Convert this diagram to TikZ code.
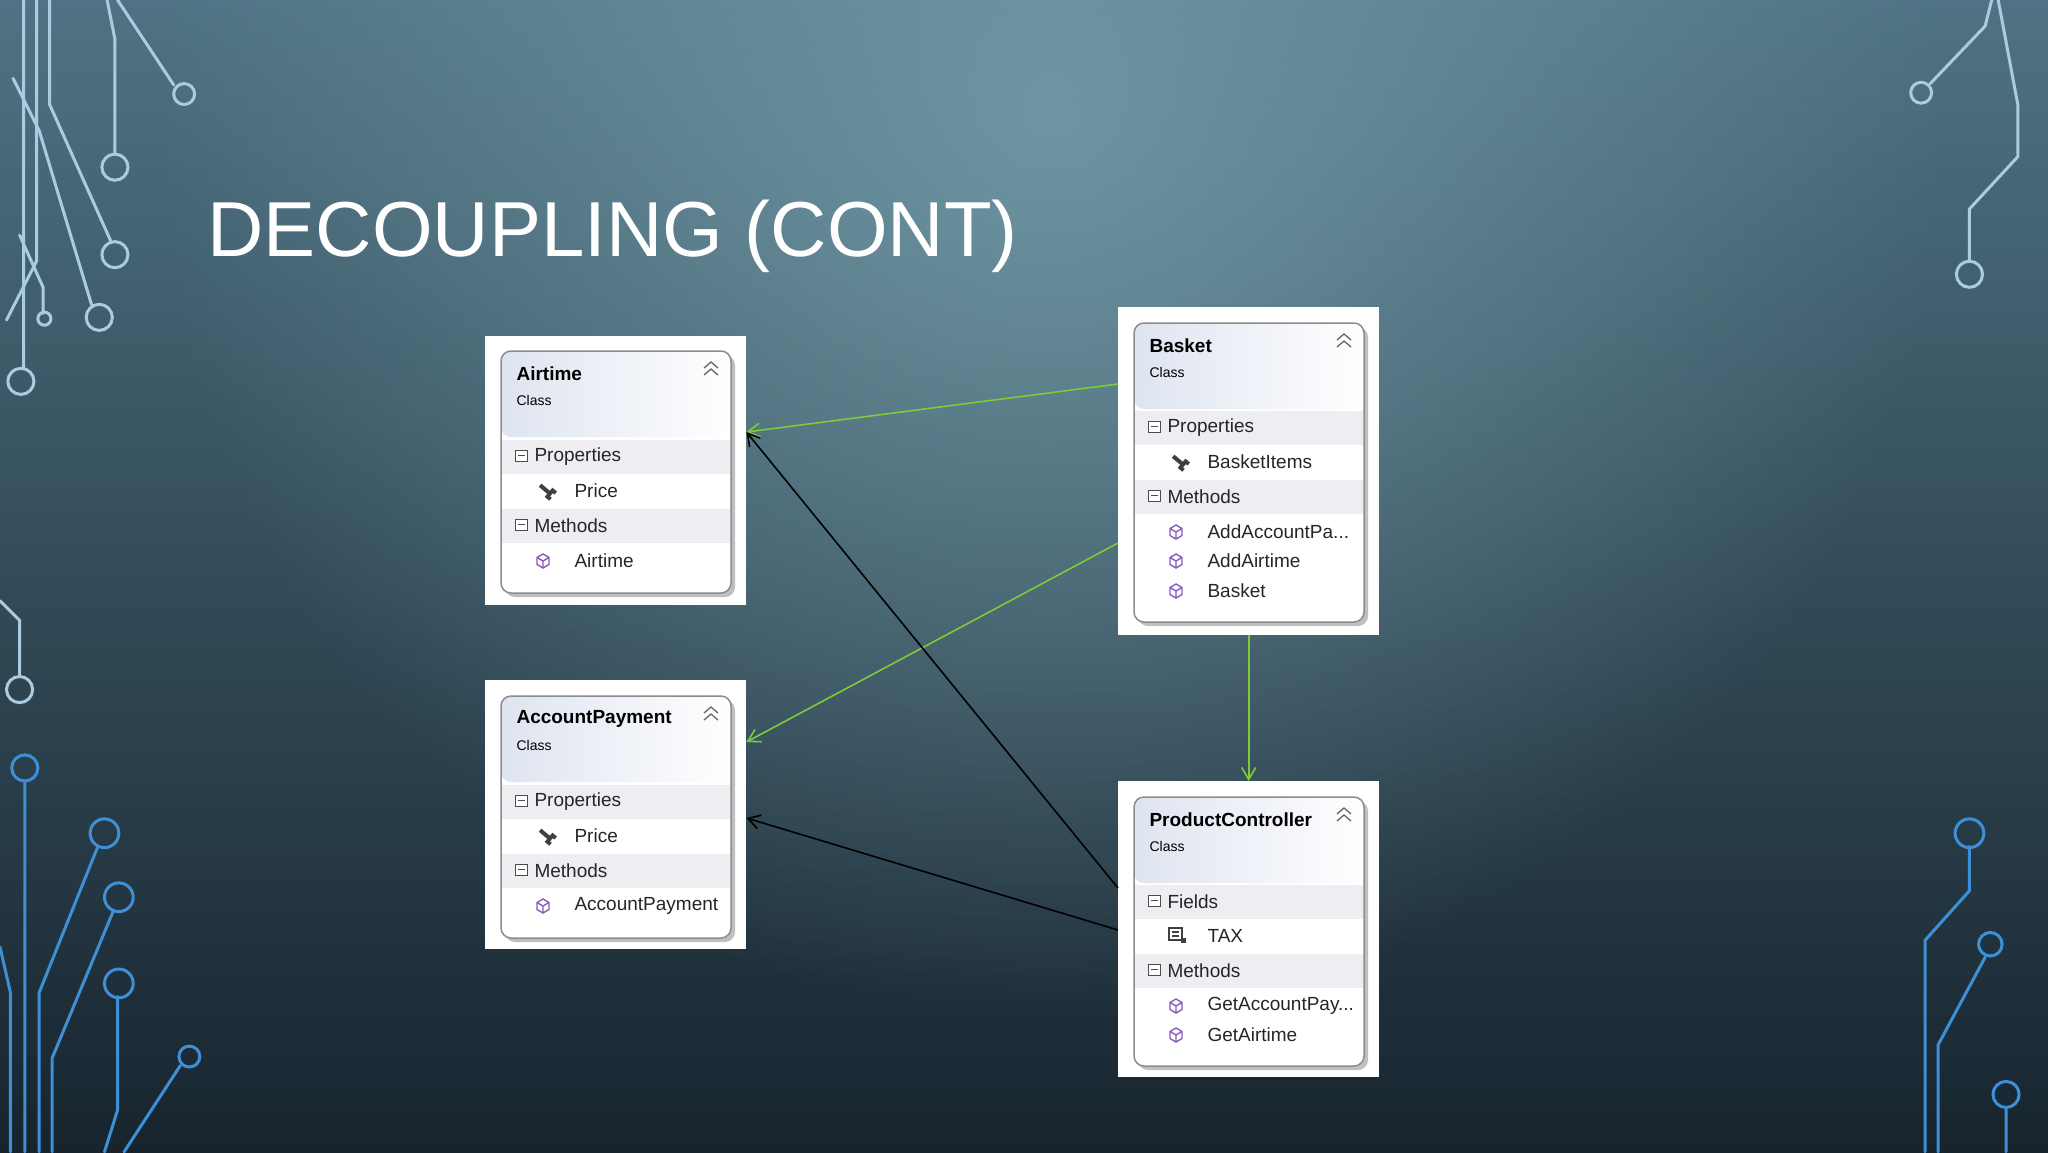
\documentclass[tikz,border=0pt]{standalone}
\usepackage{fontspec}
\setmainfont{Liberation Sans}
\usetikzlibrary{arrows.meta,calc,fadings}
\definecolor{bgtop}{HTML}{4F7384}
\definecolor{bgbot}{HTML}{17242E}
\definecolor{glowc}{HTML}{78A0AC}
\definecolor{hdrtint}{HTML}{DEE4F0}
\definecolor{circlight}{HTML}{A9CCE0}
\definecolor{circblue}{HTML}{3E90D6}
\definecolor{hdrgray}{HTML}{EEEEF2}
\definecolor{cubec}{HTML}{8A5CC0}
\definecolor{arrgreen}{HTML}{7CCB3A}
\tikzfading[name=glow, inner color=transparent!20, outer color=transparent!100]
\tikzset{
 panel/.style={draw=none,fill=white,minimum width=261pt,anchor=north west,inner sep=0pt},
 circ/.style={line width=3pt,line cap=round},
 conn/.style={line width=1.6pt,-{Straight Barb[length=12pt,width=14pt,line width=1.6pt]}},
 rowtxt/.style={anchor=west,font=\fontsize{19}{19}\selectfont,text=black!85},
}
\newcommand\cardtop[4]{% x y height title
 \fill[black!25,rounded corners=10pt] (#1+4,#2+4) rectangle ++(230,#3);
 \fill[white,rounded corners=10pt] (#1,#2) rectangle ++(230,#3);
 \shade[left color=hdrtint,right color=white,rounded corners=10pt] (#1,#2) rectangle ++(230,86);
 \node[anchor=west,font=\bfseries\fontsize{19}{19}\selectfont] at (#1+12,#2+23) {#4};
 \node[anchor=west,font=\fontsize{14}{14}\selectfont] at (#1+12,#2+49) {Class};
 \draw[black!60,line width=1.3pt] (#1+203,#2+17)--++(7,-6)--++(7,6) (#1+203,#2+24)--++(7,-6)--++(7,6);
}
\newcommand\hdrrow[4]{%
 \fill[hdrgray] (#1+1,#2-17) rectangle ++(228,34);
 \draw[black!70,fill=white] (#1+14,#2-7) rectangle ++(12,11);
 \draw[black!70,line width=1pt] (#1+16.5,#2-1.5)--++(7,0);
 \node[rowtxt] at (#1+30,#2) {#3};
}
\newcommand\proprow[3]{%
 \begin{scope}[shift={(#1+46,#2)},rotate=-40]
 \fill[black!75] (-9,-2) rectangle (4,2);
 \fill[black!75] (2,-6) rectangle (8,6);
 \fill[white] (6,-2) rectangle (9,2);
 \end{scope}
 \node[rowtxt] at (#1+70,#2) {#3};
}
\newcommand\methrow[3]{%
 \draw[cubec,line width=1.4pt] (#1+42,#2-7)--++(6,3.5)--++(0,7)--++(-6,3.5)--++(-6,-3.5)--++(0,-7)--cycle (#1+36,#2-3.5)--++(6,3.5)--++(6,-3.5) (#1+42,#2)--++(0,7);
 \node[rowtxt] at (#1+70,#2) {#3};
}
\newcommand\fieldrow[3]{%
 \draw[black!75,line width=1.2pt] (#1+35,#2-8) rectangle ++(13,12) (#1+38,#2-4)--++(7,0) (#1+38,#2)--++(7,0);
 \fill[black!75] (#1+47,#2+2) rectangle ++(5,5);
 \node[rowtxt] at (#1+70,#2) {#3};
}
\newcommand\cardframe[3]{\draw[black!45,line width=1.5pt,rounded corners=10pt] (#1,#2) rectangle ++(230,#3);}
\begin{document}
\begin{tikzpicture}[x=1pt,y=-1pt]
\useasboundingbox (0,0) rectangle (2048,1152);
\shade[top color=bgtop,bottom color=bgbot] (0,0) rectangle (2048,1152);
\fill[glowc,path fading=glow] (1050,120) circle (900);
% circuits
\begin{scope}[scale=1.306]
\begin{scope}[circ,draw=circlight]
\draw (18,0)--(18,282) (16,292) circle (10);
\draw (28,0)--(28,200)--(5,245);
\draw (38,0)--(38,80)--(85,185) (88,195) circle (10);
\draw (82,0)--(88,30)--(88,118) (88,128) circle (10);
\draw (90,0)--(133,65) (141,72) circle (8);
\draw (10,60)--(30,100)--(70,233) (76,243) circle (10);
\draw (15,180)--(33,220)--(33,240) (34,244) circle (5);
\draw (1525,0)--(1520,20)--(1478,64) (1471,71) circle (8);
\draw (1530,0)--(1545,80)--(1545,120)--(1508,160)--(1508,200) (1508,210) circle (10);
\draw (0,460)--(15,475)--(15,518) (15,528) circle (10);
\end{scope}
\begin{scope}[circ,draw=circblue]
\draw (19,598)--(19,882) (19,588) circle (10);
\draw (0,725)--(8,760)--(8,882);
\draw (30,882)--(30,760)--(75,648) (80,638) circle (11);
\draw (40,882)--(40,810)--(87,697) (91,687) circle (11);
\draw (90,763)--(90,850)--(80,882) (91,753) circle (11);
\draw (95,882)--(138,816) (145,809) circle (8);
\draw (1474,882)--(1474,720)--(1508,682)--(1508,648) (1508,638) circle (11);
\draw (1484,882)--(1484,800)--(1520,733) (1524,723) circle (9);
\draw (1536,848)--(1536,882) (1536,838) circle (10);
\end{scope}
\end{scope}
\node[anchor=base west,text=white,font=\fontsize{78}{78}\selectfont] at (204,256) {DECOUPLING (CONT)};
% panels
\node[panel,minimum height=269pt] (air) at (485,336) {};
\node[panel,minimum height=269pt] (acc) at (485,680) {};
\node[panel,minimum height=328pt] (bas) at (1118,307) {};
\node[panel,minimum height=296pt] (pc) at (1118,781) {};
% Airtime
\cardtop{501}{351}{242}{Airtime}
\hdrrow{501}{457}{Properties}{}
\proprow{501}{491}{Price}
\hdrrow{501}{526}{Methods}{}
\methrow{501}{561}{Airtime}
\cardframe{501}{351}{242}
% AccountPayment
\cardtop{501}{696}{242}{AccountPayment}
\hdrrow{501}{802}{Properties}{}
\proprow{501}{836}{Price}
\hdrrow{501}{871}{Methods}{}
\methrow{501}{906}{AccountPayment}
\cardframe{501}{696}{242}
% Basket
\cardtop{1134}{323}{299}{Basket}
\hdrrow{1134}{428}{Properties}{}
\proprow{1134}{462}{BasketItems}
\hdrrow{1134}{497}{Methods}{}
\methrow{1134}{532}{AddAccountPa...}
\methrow{1134}{561}{AddAirtime}
\methrow{1134}{591}{Basket}
\cardframe{1134}{323}{299}
% ProductController
\cardtop{1134}{797}{269}{ProductController}
\hdrrow{1134}{902}{Fields}{}
\fieldrow{1134}{936}{TAX}
\hdrrow{1134}{971}{Methods}{}
\methrow{1134}{1006}{GetAccountPay...}
\methrow{1134}{1035}{GetAirtime}
\cardframe{1134}{797}{269}
% connectors
\coordinate (a1) at ($(air.north east)+(0,96)$);
\coordinate (c1) at ($(acc.north east)+(0,62)$);
\coordinate (c2) at ($(acc.north east)+(0,138)$);
\coordinate (b1) at ($(bas.north west)+(0,77)$);
\coordinate (b2) at ($(bas.north west)+(0,236)$);
\coordinate (p1) at ($(pc.north west)+(0,107)$);
\coordinate (p2) at ($(pc.north west)+(0,149)$);
\draw[conn,arrgreen] (b1)--(a1);
\draw[conn,arrgreen] (b2)--(c1);
\draw[conn,arrgreen] (bas.south)--(pc.north);
\draw[conn,black] (p1)--(a1);
\draw[conn,black] (p2)--(c2);
\end{tikzpicture}
\end{document}
